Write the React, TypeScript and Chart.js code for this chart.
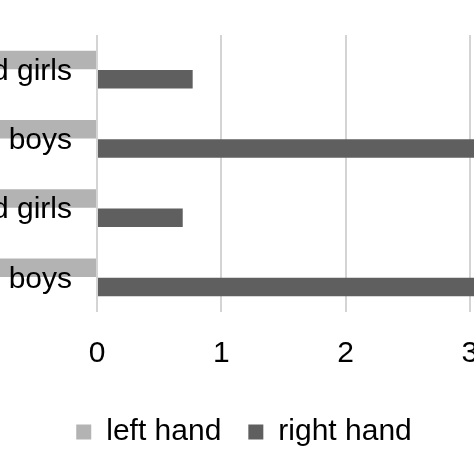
import React, { useEffect, useRef } from "react";
import { Chart, registerables } from "chart.js";

Chart.register(...registerables);

const categories = ["Trained girls", "Trained boys", "Untrained girls", "Untrained boys"];
const leftHand = [-1.0, -0.9, -1.1, -0.85];
const rightHand = [0.77, 3.4, 0.69, 3.6];
const seriesNames = ["left hand", "right hand"];
const xMin = 0;
const xMax = 4;

const FONT = "'Liberation Sans', Arial, Helvetica, sans-serif";

export default function App() {
  const canvasRef = useRef<HTMLCanvasElement | null>(null);

  useEffect(() => {
    document.body.style.overflow = "hidden";
    const canvas = canvasRef.current;
    if (!canvas) return;
    Chart.defaults.font.family = FONT;
    const chart = new Chart(canvas, {
      type: "bar",
      data: {
        labels: categories,
        datasets: [
          {
            label: seriesNames[0],
            data: leftHand,
            backgroundColor: "#b3b3b3",
            categoryPercentage: 0.56,
            barPercentage: 0.95,
            clip: false as any,
          },
          {
            label: seriesNames[1],
            data: rightHand,
            backgroundColor: "#5f5f5f",
            categoryPercentage: 0.56,
            barPercentage: 0.95,
          },
        ],
      },
      options: {
        indexAxis: "y",
        responsive: true,
        maintainAspectRatio: false,
        animation: false,
        layout: { padding: { left: 94, right: 8, top: 35, bottom: 17 } },
        plugins: {
          tooltip: { enabled: false },
          legend: {
            position: "bottom",
            labels: {
              boxWidth: 15,
              boxHeight: 15,
              padding: 27,
              color: "#000",
              font: { size: 30, family: FONT },
            },
          },
        },
        scales: {
          x: {
            min: xMin,
            max: xMax,
            grid: { color: "#d4d4d4", lineWidth: 2, drawTicks: false },
            border: { display: false },
            ticks: {
              stepSize: 1,
              padding: 24,
              color: "#000",
              font: { size: 30, family: FONT },
            },
            afterFit: (scale: any) => {
              scale.height = 78;
              scale.paddingLeft = 0;
              scale.paddingRight = 0;
            },
          },
          y: {
            position: "left",
            grid: { display: false, drawTicks: false },
            border: { display: false },
            ticks: {
              z: 1,
              padding: 25,
              labelOffset: 2,
              color: "#000",
              font: { size: 30, family: FONT },
            },
            afterFit: (scale: any) => {
              scale.width = 203;
              scale.paddingTop = 0;
              scale.paddingBottom = 0;
            },
          },
        },
      },
    });
    return () => chart.destroy();
  }, []);

  return (
    <div
      style={{
        position: "fixed",
        left: -200,
        top: 0,
        width: 802,
        height: 474,
        background: "#fff",
      }}
    >
      <canvas ref={canvasRef} />
    </div>
  );
}
